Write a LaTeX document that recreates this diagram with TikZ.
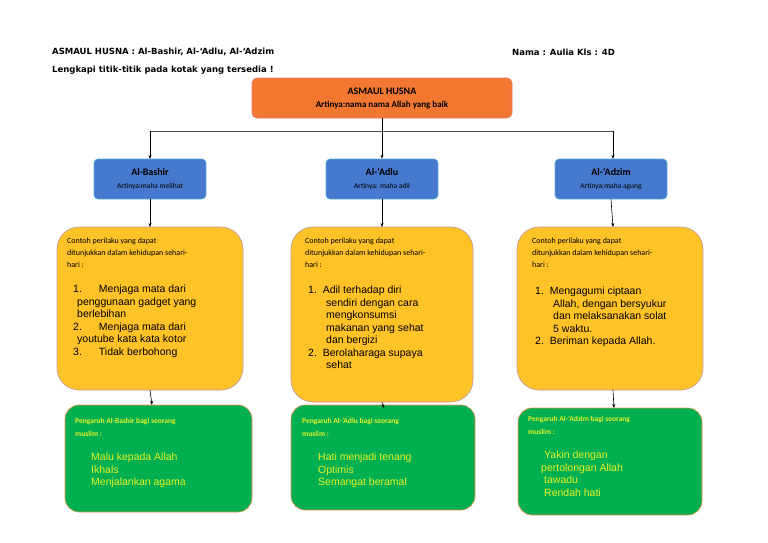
\documentclass[tikz,border=0pt]{standalone}
\usepackage{fontspec}
\usetikzlibrary{arrows.meta}
\setmainfont{Liberation Sans}
\newfontfamily\calfnt{Carlito}
\newfontfamily\dvfnt{DejaVu Sans}
\begin{document}
\begin{tikzpicture}[x=1pt,y=-1pt,
 box/.style={draw, rounded corners=#1, line width=0.6pt},
 arr/.style={-{Stealth[length=4pt,width=3pt]}, line width=0.6pt},
 hd/.style={font=\dvfnt\bfseries\fontsize{8.5}{10}\selectfont, anchor=west, inner sep=0},
 sm/.style={font=\calfnt\fontsize{8}{12}\selectfont, anchor=north west, align=left, inner sep=0},
 lst/.style={font=\fontsize{10.5}{12.5}\selectfont, anchor=north west, align=left, inner sep=0},
 gl/.style={font=\fontsize{10.5}{12.5}\selectfont, anchor=north west, align=left, inner sep=0, text={rgb,255:red,230;green,240;blue,40}},
 gt/.style={font=\calfnt\bfseries\fontsize{7.5}{13}\selectfont, anchor=north west, align=left, inner sep=0, text={rgb,255:red,230;green,240;blue,40}}]
\useasboundingbox (0,0) rectangle (768,543);
\definecolor{org}{RGB}{242,120,50}
\definecolor{blu}{RGB}{70,120,205}
\definecolor{yel}{RGB}{255,195,40}
\definecolor{grn}{RGB}{0,176,80}
\node[hd] (h1) at (52,52) {ASMAUL HUSNA : Al-Bashir, Al-‘Adlu, Al-‘Adzim};
\node[hd] (h2) at (52,70) {Lengkapi titik-titik pada kotak yang tersedia !};
\node[hd] (h3) at (512,52) {Nama : Aulia Kls : 4D};
% top
\node[box=5pt, draw={rgb,255:red,230;green,120;blue,100}, fill=org, minimum width=260, minimum height=40, align=center, font=\calfnt\bfseries\fontsize{10}{13}\selectfont] (top) at (382,98) {ASMAUL HUSNA\\ \fontsize{9}{11}\selectfont Artinya:nama nama Allah yang baik};
% blue
\foreach \n/\x/\t/\s in {b1/150/Al-Bashir/Artinya:maha melihat, b2/382/Al-‘Adlu/Artinya: maha adil, b3/611/Al-‘Adzim/Artinya:maha agung}{
 \node[box=4pt, draw={rgb,255:red,90;green,170;blue,220}, fill=blu, minimum width=112, minimum height=40, align=center, font=\calfnt\bfseries\fontsize{10}{13}\selectfont] (\n) at (\x,179) {\t\\ \calfnt\mdseries\fontsize{7.5}{9}\selectfont \s};}
\coordinate (jL) at (150,131); \coordinate (jM) at (382,131); \coordinate (jR) at (613,131);
\draw[line width=0.8pt,draw=black!70] (jL) -- (jR);
\draw[arr] (top.south) -- (b2.north);
\draw[arr] (jL) -- (150,159);
\draw[arr] (jR) -- (613,159);
% yellow
\draw[box=22pt, draw={rgb,255:red,190;green,150;blue,170}, fill=yel] (57,227) rectangle (243,390);
\draw[box=22pt, draw={rgb,255:red,190;green,150;blue,170}, fill=yel] (291,227) rectangle (473,402);
\draw[box=22pt, draw={rgb,255:red,190;green,150;blue,170}, fill=yel] (517,227) rectangle (703,390);
\coordinate (y1t) at (150,227); \coordinate (y2t) at (382,227); \coordinate (y3t) at (613,227);
\coordinate (y1b) at (150,390); \coordinate (y2b) at (382,402); \coordinate (y3b) at (613,390);
\draw[arr] (b1.south) -- (y1t);
\draw[arr] (b2.south) -- (y2t);
\draw[arr] (b3.south) -- (y3t);
\foreach \x in {67,305,532}{\node[sm] at (\x,238) {Contoh perilaku yang dapat\\ditunjukkan dalam kehidupan sehari-\\hari :};}
\node[lst] (l1) at (73,285) {1.\hspace{17pt}Menjaga mata dari\\\hspace{4pt}penggunaan gadget yang\\\hspace{4pt}berlebihan\\2.\hspace{17pt}Menjaga mata dari\\\hspace{4pt}youtube kata kata kotor\\3.\hspace{17pt}Tidak berbohong};
\node[lst] (l2) at (308,286) {1.\ \ Adil terhadap diri\\\hspace{18pt}sendiri dengan cara\\\hspace{18pt}mengkonsumsi\\\hspace{18pt}makanan yang sehat\\\hspace{18pt}dan bergizi\\2.\ \ Berolaharaga supaya\\\hspace{18pt}sehat};
\node[lst] (l3) at (535,287) {1.\ \ Mengagumi ciptaan\\\hspace{18pt}Allah, dengan bersyukur\\\hspace{18pt}dan melaksanakan solat\\\hspace{18pt}5 waktu.\\2.\ \ Beriman kepada Allah.};
% green
\draw[box=14pt, draw={rgb,255:red,240;green,150;blue,80}, fill=grn] (65,405) rectangle (252,512);
\draw[box=14pt, draw={rgb,255:red,240;green,150;blue,80}, fill=grn] (291,405) rectangle (475,510);
\draw[box=14pt, draw={rgb,255:red,240;green,150;blue,80}, fill=grn] (518,408) rectangle (702,515);
\coordinate (g1t) at (152,405); \coordinate (g2t) at (384,408); \coordinate (g3t) at (614,408);
\draw[arr] (y1b) -- (g1t);
\draw[arr] (y2b) -- (g2t);
\draw[arr] (y3b) -- (g3t);
\node[gt] at (75,418) {Pengaruh Al-Bashir bagi seorang\\muslim :};
\node[gt] at (302,418) {Pengaruh Al-‘Adlu bagi seorang\\muslim :};
\node[gt] at (528,416) {Pengaruh Al-‘Adzim bagi seorang\\muslim :};
\node[gl] at (91,453) {Malu kepada Allah\\Ikhals\\Menjalankan agama};
\node[gl] at (318,453) {Hati menjadi tenang\\Optimis\\Semangat beramal};
\node[gl] at (541,451) {\hspace{3pt}Yakin dengan\\pertolongan Allah\\\hspace{3pt}tawadu\\\hspace{3pt}Rendah hati};
\end{tikzpicture}
\end{document}
